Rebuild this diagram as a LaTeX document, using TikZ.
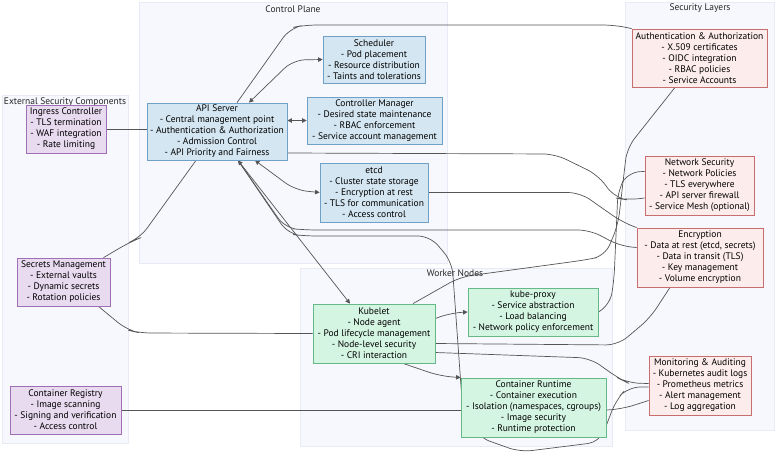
\documentclass[tikz,border=0pt]{standalone}
\usepackage{fontspec}
\setmainfont{PT Sans}
\usetikzlibrary{arrows.meta}
\definecolor{cpfill}{RGB}{212,230,241}
\definecolor{cpdraw}{RGB}{110,160,200}
\definecolor{wnfill}{RGB}{213,245,227}
\definecolor{wndraw}{RGB}{100,185,135}
\definecolor{secfill}{RGB}{253,236,236}
\definecolor{secdraw}{RGB}{200,110,110}
\definecolor{extfill}{RGB}{232,218,239}
\definecolor{extdraw}{RGB}{160,110,180}
\definecolor{grpfill}{RGB}{247,248,253}
\definecolor{grpdraw}{RGB}{232,234,245}
\definecolor{linkgray}{RGB}{85,85,85}
\pgfdeclarelayer{groups}
\pgfdeclarelayer{links}
\pgfsetlayers{groups,links,main}
\tikzset{
  box/.style={rectangle, draw, line width=0.8pt, align=center, inner sep=1pt,
              font=\fontsize{9.5}{11}\selectfont},
  ctrl/.style={box, draw=cpdraw, fill=cpfill},
  work/.style={box, draw=wndraw, fill=wnfill},
  secu/.style={box, draw=secdraw, fill=secfill},
  extn/.style={box, draw=extdraw, fill=extfill},
  group/.style={draw=grpdraw, fill=grpfill, line width=0.6pt},
  grouptitle/.style={font=\fontsize{9.5}{11}\selectfont, text=black!85},
  link/.style={draw=linkgray, line width=0.7pt, rounded corners=12pt},
  arrowend/.style={-{Triangle[length=4.5pt,width=4.5pt]}},
  arrowboth/.style={{Triangle[length=4.5pt,width=4.5pt]}-{Triangle[length=4.5pt,width=4.5pt]}},
}

\begin{document}
\begin{tikzpicture}[x=1pt, y=-1pt]
  \useasboundingbox (0,0) rectangle (784,459);

  % subgraphs
  \begin{pgfonlayer}{groups}
    \draw[group] (139,2) rectangle (447,263);
    \draw[group] (2,95) rectangle (128,443);
    \draw[group] (625,2) rectangle (774,430);
    \draw[group] (300,268) rectangle (612,446);
  \end{pgfonlayer}
  \node[grouptitle] (cptitle) at (293,9) {Control Plane};
  \node[grouptitle] (sltitle) at (700,8) {Security Layers};
  \node[grouptitle] (wntitle) at (455,273) {Worker Nodes};
  \node[grouptitle] (extitle) at (65,102) {External Security Components};

  % control plane
  \node[ctrl, minimum width=140pt, minimum height=57pt] (api) at (217,131.5)
    {API Server\\- Central management point\\- Authentication \& Authorization\\- Admission Control\\- API Priority and Fairness};
  \node[ctrl, minimum width=102pt, minimum height=47pt] (sched) at (374,59.5)
    {Scheduler\\- Pod placement\\- Resource distribution\\- Taints and tolerations};
  \node[ctrl, minimum width=135pt, minimum height=47pt] (cm) at (374.5,120.5)
    {Controller Manager\\- Desired state maintenance\\- RBAC enforcement\\- Service account management};
  \node[ctrl, minimum width=108pt, minimum height=59pt] (etcd) at (374,192.5)
    {etcd\\- Cluster state storage\\- Encryption at rest\\- TLS for communication\\- Access control};

  % worker nodes
  \node[work, minimum width=122pt, minimum height=59pt] (kubelet) at (374,333.5)
    {Kubelet\\- Node agent\\- Pod lifecycle management\\- Node-level security\\- CRI interaction};
  \node[work, minimum width=130pt, minimum height=48pt] (proxy) at (533,312)
    {kube-proxy\\- Service abstraction\\- Load balancing\\- Network policy enforcement};
  \node[work, minimum width=145pt, minimum height=59pt] (runtime) at (533.5,407.5)
    {Container Runtime\\- Container execution\\- Isolation (namespaces, cgroups)\\- Image security\\- Runtime protection};

  % security layers
  \node[secu, minimum width=135pt, minimum height=58pt] (auth) at (699.5,58)
    {Authentication \& Authorization\\- X.509 certificates\\- OIDC integration\\- RBAC policies\\- Service Accounts};
  \node[secu, minimum width=109pt, minimum height=59pt] (netpol) at (699.5,185.5)
    {Network Security\\- Network Policies\\- TLS everywhere\\- API server firewall\\- Service Mesh (optional)};
  \node[secu, minimum width=126pt, minimum height=59pt] (encrypt) at (700,257.5)
    {Encryption\\- Data at rest (etcd, secrets)\\- Data in transit (TLS)\\- Key management\\- Volume encryption};
  \node[secu, minimum width=102pt, minimum height=59pt] (audit) at (700,385.5)
    {Monitoring \& Auditing\\- Kubernetes audit logs\\- Prometheus metrics\\- Alert management\\- Log aggregation};

  % external components
  \node[extn, minimum width=80pt, minimum height=48pt] (ingress) at (66,129)
    {Ingress Controller\\- TLS termination\\- WAF integration\\- Rate limiting};
  \node[extn, minimum width=93pt, minimum height=48pt] (secrets) at (63.5,282)
    {Secrets Management\\- External vaults\\- Dynamic secrets\\- Rotation policies};
  \node[extn, minimum width=111pt, minimum height=48pt] (registry) at (65.5,410)
    {Container Registry\\- Image scanning\\- Signing and verification\\- Access control};

  \begin{pgfonlayer}{links}
    % control plane links
    \draw[link, arrowboth] ([xshift=32pt]api.north) -- (293,60) -- (sched.west);
    \draw[link, arrowboth] (cm.west) -- (cm.west -| api.east);
    \draw[link, arrowboth] ([xshift=38pt]api.south) -- (295,190) -- (etcd.west);
    \draw[link, arrowboth] ([xshift=21pt]api.south) -- ([xshift=-24pt]kubelet.north);
    % worker links
    \draw[link, arrowend] ([yshift=15pt]kubelet.east) -- (450,313) -- (proxy.west);
    \draw[link, arrowend] ([xshift=29pt]kubelet.south) -- (440,376) -- (runtime.north west);
    % security links
    \draw[link] ([xshift=20pt]api.north) -- (290,28) -- (305,25) -- (615,25) -- (auth.north west);
    \draw[link] ([xshift=-24.5pt]auth.south) -- (627,148) -- (618,225) -- (605,256) -- (585,260)
      -- (460,277) -- ([xshift=39pt]kubelet.north);
    \draw[link] ([yshift=-21.5pt]api.east) -- (555,154) -- (598,175) -- (615,198) -- (628,200)
      -- ([yshift=-12.5pt]netpol.west);
    \draw[link] (proxy.east) -- (610,305) -- (614,280) -- (618,190) -- (628,172)
      -- ([yshift=14pt]netpol.west);
    \draw[link] (etcd.east) -- (580,192.5) -- (622,222) -- (encrypt.north west);
    \draw[link] ([xshift=21pt]api.south) -- (285,228) -- (305,230) -- (590,230) -- (620,246)
      -- ([yshift=10pt]encrypt.west);
    \draw[link] ([yshift=-10pt]kubelet.east) -- (618,345) -- (650,318) -- ([xshift=-30pt]encrypt.south);
    \draw[link] ([xshift=21pt]api.south) -- (288,234) -- (305,236) -- (430,236) -- (452,262)
      -- (462,400) -- (478,437) -- (520,452) -- (600,442) -- (616,400) -- (628,387)
      -- ([yshift=-1.5pt]audit.west);
    \draw[link] ([yshift=-19pt]kubelet.east) -- (590,358) -- (618,378) -- (628,383)
      -- ([yshift=2pt]audit.west);
    \draw[link] ([yshift=-2.5pt]runtime.east) -- (622,409) -- ([yshift=-15pt]audit.west);
    % external links
    \draw[link] (ingress.east) -- (ingress.east -| api.west);
    \draw[link] ([xshift=40pt]secrets.north) -- (130,242) -- (140,238) -- ([xshift=-21pt]api.south);
    \draw[link] ([xshift=35pt]secrets.south) -- (127,330) -- (140,333) -- (kubelet.west);
    \draw[link] (registry.east) -- (registry.east -| runtime.west);
  \end{pgfonlayer}
\end{tikzpicture}
\end{document}
